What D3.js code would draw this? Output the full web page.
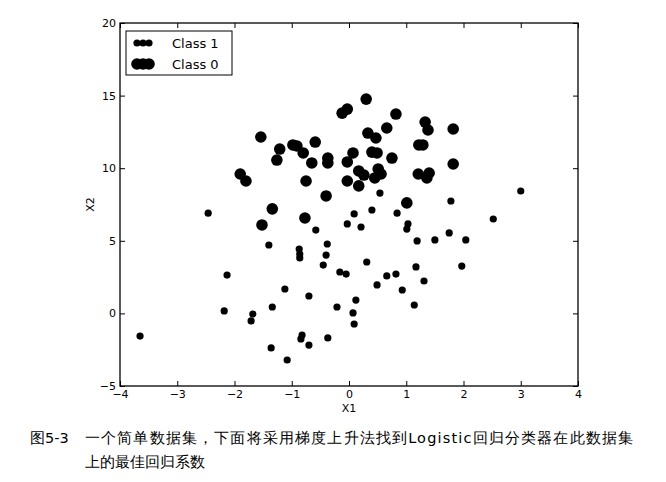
<!DOCTYPE html><html><head><meta charset="utf-8"><script src="https://d3js.org/d3.v7.min.js"></script>
<style>body{margin:0;background:#fff}text{font-family:"DejaVu Sans",sans-serif}</style></head><body><svg id="c" width="666" height="482"></svg><script>
const class0X=[-1.54,-1.21,-1.26,-0.98,-0.91,-0.80,-0.59,-0.65,-0.37,-0.37,-0.12,-0.03,-1.90,-1.80,-0.75,-0.03,-0.03,-0.40,-1.34,-1.52,-0.77,0.30,0.82,1.33,1.38,1.82,0.33,0.47,0.66,1.22,1.29,0.07,0.40,0.49,0.75,1.82,0.17,0.26,0.51,0.56,0.45,0.17,1.21,1.40,1.36,1.01];
const class0Y=[12.15,11.32,10.56,11.60,11.53,11.05,11.80,10.36,10.70,10.36,13.79,14.07,9.60,9.12,9.12,10.43,9.12,8.09,7.20,6.09,6.57,14.76,13.73,13.18,12.63,12.70,12.42,12.08,12.77,11.60,11.60,11.05,11.11,11.05,10.70,10.29,9.81,9.53,9.95,9.60,9.33,8.78,9.60,9.67,9.33,7.61];
const class1X=[-2.46,-0.58,-0.03,-1.40,-0.38,-0.87,-0.86,-0.86,-0.40,-0.45,-2.13,-0.16,-0.05,-1.12,-0.70,-2.18,-1.68,-1.71,-1.34,-0.21,-3.65,-0.82,-0.84,-0.37,-0.70,-1.36,-1.08,0.54,1.78,3.00,0.09,0.40,0.84,0.21,1.03,1.01,2.52,1.19,1.50,1.75,2.04,0.31,1.17,1.97,0.82,0.66,0.49,1.31,0.93,0.12,0.07,0.09,1.14];
const class1Y=[6.90,5.74,6.16,4.71,4.78,4.43,4.09,3.82,4.02,3.33,2.64,2.85,2.71,1.68,1.20,0.17,-0.04,-0.52,0.44,0.44,-1.56,-1.49,-1.76,-1.69,-2.18,-2.38,-3.21,8.29,7.74,8.43,6.85,7.12,6.90,5.95,6.16,5.81,6.50,4.99,5.06,5.54,5.06,3.54,3.20,3.26,2.71,2.58,1.96,2.23,1.61,0.92,0.03,-0.73,0.58];
const xTicks=[-4,-3,-2,-1,0,1,2,3,4];
const yTicks=[-5,0,5,10,15,20];
const legendLabels=["Class 1","Class 0"];
const captionLabel="图5-3";
const captionLines=["一个简单数据集，下面将采用梯度上升法找到Logistic回归分类器在此数据集","上的最佳回归系数"];

const svg=d3.select("#c");
const L=120,R=578,T=23,B=386;
const x=d3.scaleLinear().domain([-4,4]).range([L,R]);
const y=d3.scaleLinear().domain([-5,20]).range([B,T]);
const g=svg.append("g");
function ax(axis,tr){const a=g.append("g").attr("transform",tr).call(axis);a.select(".domain").remove();a.selectAll("text").attr("font-size",11).attr("fill","#000");return a;}
ax(d3.axisBottom(x).tickValues(xTicks).tickSize(-5).tickPadding(4).tickFormat(d=>d<0?"\u2212"+(-d):d),`translate(0,${B})`);
ax(d3.axisTop(x).tickValues(xTicks).tickSize(-5).tickFormat(""),`translate(0,${T})`);
ax(d3.axisLeft(y).tickValues(yTicks).tickSize(-5).tickPadding(4).tickFormat(d=>d<0?"\u2212"+(-d):d),`translate(${L},0)`);
ax(d3.axisRight(y).tickValues(yTicks).tickSize(-5).tickFormat(""),`translate(${R},0)`);
g.append("rect").attr("x",L).attr("y",T).attr("width",R-L).attr("height",B-T).attr("fill","none").attr("stroke","#000").attr("stroke-width",1.3);
g.append("g").selectAll("circle").data(class1X.map((v,i)=>[v,class1Y[i]])).join("circle").attr("cx",d=>x(d[0])).attr("cy",d=>y(d[1])).attr("r",3.6).attr("fill","#000");
g.append("g").selectAll("circle").data(class0X.map((v,i)=>[v,class0Y[i]])).join("circle").attr("cx",d=>x(d[0])).attr("cy",d=>y(d[1])).attr("r",5.8).attr("fill","#000");
svg.append("text").attr("x",(L+R)/2).attr("y",412).attr("text-anchor","middle").attr("font-size",11).text("X1");
svg.append("text").attr("transform",`translate(94,${(T+B)/2}) rotate(-90)`).attr("text-anchor","middle").attr("font-size",11).text("X2");
const lg=svg.append("g");
lg.append("rect").attr("x",126).attr("y",31).attr("width",106).attr("height",44).attr("fill","#fff").attr("stroke","#000");
[[3.6,43,[137,143,149]],[5.8,64,[137,143,149]]].forEach((s,i)=>{s[2].forEach(cx=>lg.append("circle").attr("cx",cx).attr("cy",s[1]).attr("r",s[0]).attr("fill","#000"));
lg.append("text").attr("x",172).attr("y",s[1]+4.5).attr("font-size",13).text(legendLabels[i]);});
const cf='"Noto Serif CJK SC","Noto Sans CJK SC",serif';
svg.append("text").attr("x",30).attr("y",443).attr("font-size",14.5).attr("font-family",cf).text(captionLabel);
captionLines.forEach((t,i)=>svg.append("text").attr("x",85).attr("y",443+24*i).attr("font-size",14.5).attr("font-family",cf).attr("textLength",i?null:548).text(t));
</script></body></html>
